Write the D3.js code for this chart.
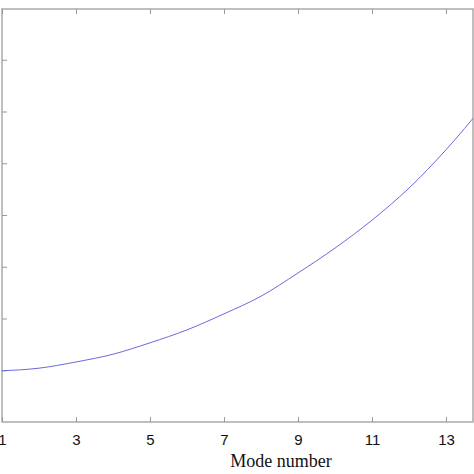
<!DOCTYPE html><html><head><script src="https://d3js.org/d3.v7.min.js"></script>
<style>body{margin:0;background:#fff}</style></head><body><svg id="c" width="474" height="474"></svg>
<script>
const modes=[1,2,3,4,5,6,7,8,9,10,11,12,13,14];
const values=[0.99,1.04,1.16,1.31,1.53,1.78,2.09,2.43,2.88,3.36,3.90,4.52,5.26,6.1];
const xTicks=[1,3,5,7,9,11,13];
const yTicks=[1,2,3,4,5,6,7];
const svg=d3.select("#c");
const L=2,R=473,T=9,B=422;
const x=d3.scaleLinear().domain([1,13.73]).range([L,R]);
const y=d3.scaleLinear().domain([0,8]).range([B,8]);
svg.append("defs").append("clipPath").attr("id","cp").append("rect").attr("x",L).attr("y",T).attr("width",R-L).attr("height",B-T);
svg.append("rect").attr("x",L).attr("y",T).attr("width",R-L).attr("height",B-T).attr("fill","none").attr("stroke","#aaa").attr("stroke-width",1.5);
const gx=svg.append("g").attr("transform",`translate(0,${B})`).call(d3.axisBottom(x).tickValues(xTicks).tickSize(-5).tickPadding(12));
gx.select(".domain").remove();
gx.selectAll("line").attr("stroke","#999");
gx.selectAll("text").attr("font-family","Liberation Sans, Arial").attr("font-size",15).attr("fill","#111");
svg.append("g").attr("transform",`translate(0,${T})`).call(d3.axisTop(x).tickValues(xTicks).tickSize(-5).tickFormat("")).call(g=>{g.select(".domain").remove();g.selectAll("line").attr("stroke","#999");});
svg.append("g").attr("transform",`translate(${L},0)`).call(d3.axisLeft(y).tickValues(yTicks).tickSize(-5).tickFormat("")).call(g=>{g.select(".domain").remove();g.selectAll("line").attr("stroke","#999");});
svg.append("path").datum(modes.map((m,i)=>[m,values[i]])).attr("clip-path","url(#cp)")
 .attr("d",d3.line().x(d=>x(d[0])).y(d=>y(d[1])).curve(d3.curveMonotoneX))
 .attr("fill","none").attr("stroke","#6a6adc").attr("stroke-width",1);
svg.append("text").attr("x",281).attr("y",467).attr("text-anchor","middle").attr("font-family","Liberation Serif, Times New Roman").attr("font-size",18).attr("fill","#111").text("Mode number");
</script></body></html>
